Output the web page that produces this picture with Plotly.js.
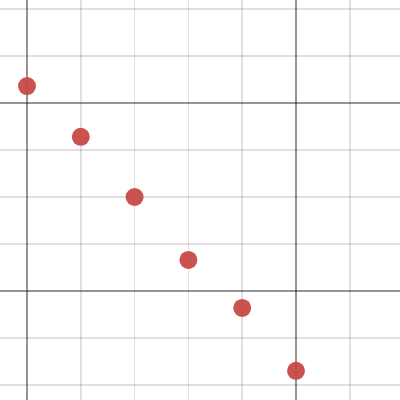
<!DOCTYPE html>
<html>
<head>
<meta charset="utf-8">
<script src="https://cdn.plot.ly/plotly-3.0.1.min.js"></script>
<style>
  html, body { margin: 0; padding: 0; background: #fff; }
  #graph { width: 400px; height: 400px; }
</style>
</head>
<body>
<div id="graph"></div>
<script>
// points
let xValues = [0, 1, 2, 3, 4, 5];
let yValues = [2.18, 1.64, 1.0, 0.33, -0.18, -0.85];

let trace = {
  x: xValues,
  y: yValues,
  mode: 'markers',
  type: 'scatter',
  marker: { size: 18, color: '#c74440', opacity: 0.92 },
  hoverinfo: 'skip'
};

let majorGrid = 'rgba(0,0,0,0.42)';
let minorGrid = 'rgba(0,0,0,0.12)';

Plotly.newPlot(document.getElementById('graph'), [trace], {
  width: 400,
  height: 400,
  margin: { l: 0, r: 0, t: 0, b: 0 },
  paper_bgcolor: '#fff',
  plot_bgcolor: '#fff',
  showlegend: false,
  xaxis: {
    range: [-0.5019, 6.933],
    tick0: 0, dtick: 5,
    showgrid: true, gridcolor: majorGrid, gridwidth: 2,
    minor: { tick0: 0, dtick: 1, showgrid: true, gridcolor: minorGrid, gridwidth: 1.6 },
    zeroline: false, showticklabels: false, ticks: '', showline: false
  },
  yaxis: {
    range: [-1.160, 3.096],
    tick0: 0, dtick: 2,
    showgrid: true, gridcolor: majorGrid, gridwidth: 2,
    minor: { tick0: 0, dtick: 0.5, showgrid: true, gridcolor: minorGrid, gridwidth: 1.6 },
    zeroline: false, showticklabels: false, ticks: '', showline: false
  }
}, { staticPlot: true });
</script>
</body>
</html>
